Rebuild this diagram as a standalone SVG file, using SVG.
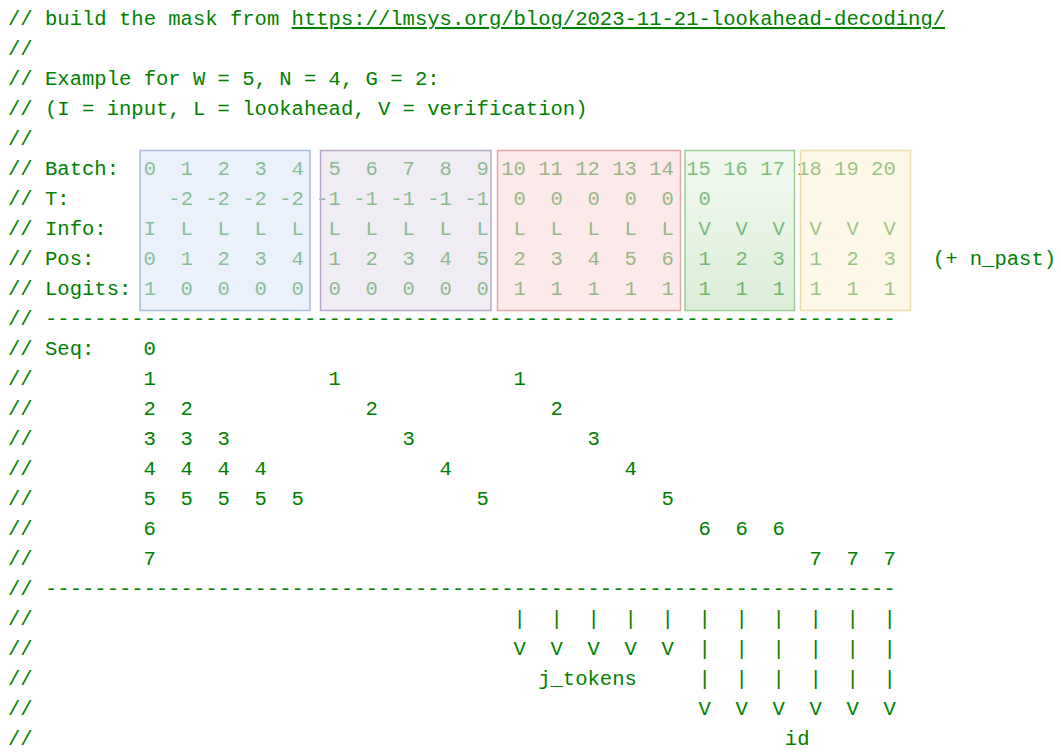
<svg xmlns="http://www.w3.org/2000/svg" width="1061" height="756" viewBox="0 0 1061 756">
<defs>
<style>
text{font-family:"Liberation Mono","DejaVu Sans Mono",monospace;font-size:20.55px;fill:#008000;white-space:pre}
.box{stroke-width:1.5}
</style>
<linearGradient id="gg" x1="0" y1="0" x2="0" y2="1"><stop offset="0" stop-color="#e6f3e3"/><stop offset="1" stop-color="#bfe0b8"/></linearGradient>
</defs>
<rect width="1061" height="756" fill="#fff"/>
<g id="text">
<text x="8" y="25">// build the mask from <tspan text-decoration="underline">https://lmsys.org/blog/2023-11-21-lookahead-decoding/</tspan></text>
<text x="8" y="55">//</text>
<text x="8" y="85">// Example for W = 5, N = 4, G = 2:</text>
<text x="8" y="115">// (I = input, L = lookahead, V = verification)</text>
<text x="8" y="145">//</text>
<text x="8" y="175">// Batch:  0  1  2  3  4  5  6  7  8  9 10 11 12 13 14 15 16 17 18 19 20</text>
<text y="205"><tspan x="8">// T:</tspan><tspan x="168.3">-2 -2 -2 -2 -1 -1 -1 -1 -1  0  0  0  0  0  0</tspan></text>
<text x="8" y="235">// Info:   I  L  L  L  L  L  L  L  L  L  L  L  L  L  L  V  V  V  V  V  V</text>
<text y="265"><tspan x="8">// Pos:</tspan><tspan x="143.6">0  1  2  3  4  1  2  3  4  5  2  3  4  5  6  1  2  3  1  2  3</tspan><tspan x="932.8">(+ n_past)</tspan></text>
<text x="8" y="295">// Logits: 1  0  0  0  0  0  0  0  0  0  1  1  1  1  1  1  1  1  1  1  1</text>
<text x="8" y="325">// ---------------------------------------------------------------------</text>
<text y="355"><tspan x="8">// Seq:</tspan><tspan x="143.6">0</tspan></text>
<text y="385"><tspan x="8">//</tspan><tspan x="143.6">1</tspan><tspan x="328.6">1</tspan><tspan x="513.5">1</tspan></text>
<text y="415"><tspan x="8">//</tspan><tspan x="143.6">2  2</tspan><tspan x="365.6">2</tspan><tspan x="550.5">2</tspan></text>
<text y="445"><tspan x="8">//</tspan><tspan x="143.6">3  3  3</tspan><tspan x="402.6">3</tspan><tspan x="587.5">3</tspan></text>
<text y="475"><tspan x="8">//</tspan><tspan x="143.6">4  4  4  4</tspan><tspan x="439.6">4</tspan><tspan x="624.5">4</tspan></text>
<text y="505"><tspan x="8">//</tspan><tspan x="143.6">5  5  5  5  5</tspan><tspan x="476.5">5</tspan><tspan x="661.5">5</tspan></text>
<text y="535"><tspan x="8">//</tspan><tspan x="143.6">6</tspan><tspan x="698.5">6  6  6</tspan></text>
<text y="565"><tspan x="8">//</tspan><tspan x="143.6">7</tspan><tspan x="809.5">7  7  7</tspan></text>
<text x="8" y="595">// ---------------------------------------------------------------------</text>
<text y="625"><tspan x="8">//</tspan><tspan x="513.5">|  |  |  |  |  |  |  |  |  |  |</tspan></text>
<text y="655"><tspan x="8">//</tspan><tspan x="513.5">V  V  V  V  V  |  |  |  |  |  |</tspan></text>
<text y="685"><tspan x="8">//</tspan><tspan x="538.2">j_tokens</tspan><tspan x="698.5">|  |  |  |  |  |</tspan></text>
<text y="715"><tspan x="8">//</tspan><tspan x="698.5">V  V  V  V  V  V</tspan></text>
<text y="745"><tspan x="8">//</tspan><tspan x="784.8">id</tspan></text>
</g>
<g id="boxes">
<rect id="input" class="box" x="140" y="150.5" width="170" height="160" fill="#dde8f8" fill-opacity="0.6" stroke="#a9bdd9"/>
<rect id="lookahead1" class="box" x="320.5" y="150.5" width="170.5" height="160" fill="#e6e0ec" fill-opacity="0.6" stroke="#b9a9c9"/>
<rect id="lookahead2" class="box" x="497.5" y="150.5" width="183" height="160" fill="#fadada" fill-opacity="0.6" stroke="#e0a8a8"/>
<rect id="verify1" class="box" x="685" y="150.5" width="109.5" height="160" fill="url(#gg)" fill-opacity="0.55" stroke="#9ccc94"/>
<rect id="verify2" class="box" x="800.5" y="150.5" width="110" height="160" fill="#fdf3d9" fill-opacity="0.6" stroke="#ecdcae"/>
</g>
</svg>
